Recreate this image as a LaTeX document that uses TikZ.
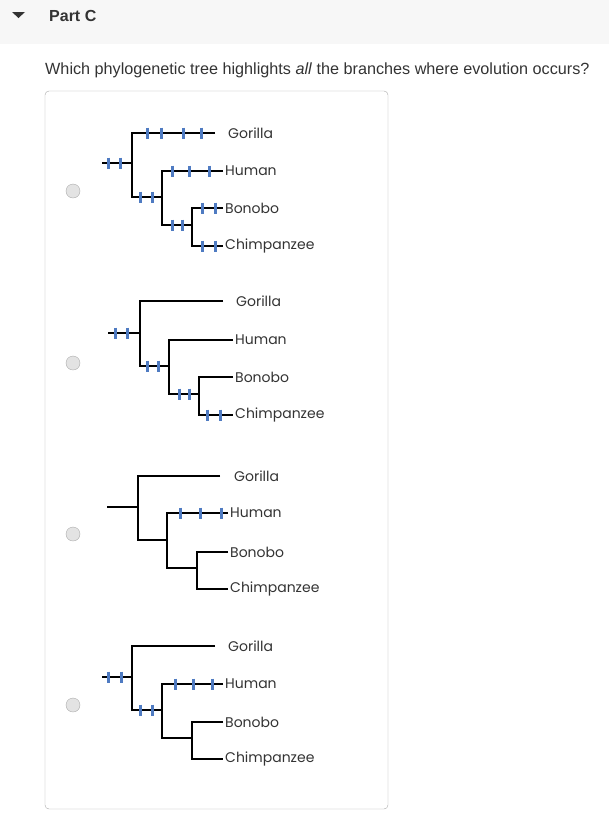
\documentclass[tikz,border=0pt]{standalone}
\usepackage{fontspec}
\setmainfont{Liberation Sans}
\newfontfamily\handfont{Poppins}
\usetikzlibrary{positioning}
\definecolor{bandgray}{HTML}{F7F7F7}
\definecolor{framegray}{HTML}{A8A8A8}
\definecolor{textdark}{HTML}{333333}
\definecolor{tickblue}{HTML}{4F7BC2}
\definecolor{radiofill}{HTML}{E3E3E3}
\definecolor{radioline}{HTML}{ABABAB}

\begin{document}
\begin{tikzpicture}[
    x=1pt, y=-1pt,
    branch/.style={line width=2.3pt, black},
    mutation/.style={line width=3pt, tickblue},
    taxon/.style={anchor=west, inner sep=1pt, text=textdark, font=\handfont\fontsize{14}{16}\selectfont},
    radio/.style={circle, draw=radioline, fill=radiofill, minimum size=14pt, inner sep=0pt}
  ]
    \useasboundingbox (0,0) rectangle (609,820);

    % header
    \fill[bandgray] (0,0) rectangle (609,44);
    \fill[textdark] (12,12) -- (25,12) -- (18.5,18) -- cycle;
    \node[anchor=base west, inner sep=0pt, text=textdark, font=\bfseries\fontsize{16}{18}\selectfont] (part) at (49,21) {Part C};
    \node[anchor=base west, inner sep=0pt, text=textdark, font=\fontsize{16.2}{18}\selectfont] (question) at (45,74)
      {Which phylogenetic tree highlights \textit{all} the branches where evolution occurs?};

    % answer frame
    \draw[framegray, rounded corners=4pt] (45,91) rectangle (388,809);

    \node[radio] (optA) at (73,191) {};
    \node[radio] (optB) at (73,363) {};
    \node[radio] (optC) at (73,534) {};
    \node[radio] (optD) at (73,705) {};

    % tree A
    \draw[branch] (102,163) -- (132,163);
    \draw[branch] (215,133) -| (132,197) -- (162,197);
    \draw[branch] (223,171) -| (162,225) -- (192,225);
    \draw[branch] (223,208) -| (192,246) -- (223,246);
    \foreach \x in {108,120} \draw[mutation] (\x,157.5) -- (\x,168.5);
    \foreach \x in {147,161,183,201} \draw[mutation] (\x,127.5) -- (\x,138.5);
    \foreach \x in {140,152} \draw[mutation] (\x,191.5) -- (\x,202.5);
    \foreach \x in {172,189,209} \draw[mutation] (\x,165.5) -- (\x,176.5);
    \foreach \x in {172,182} \draw[mutation] (\x,219.5) -- (\x,230.5);
    \foreach \x in {202,215} \draw[mutation] (\x,202.5) -- (\x,213.5);
    \foreach \x in {202,215} \draw[mutation] (\x,240.5) -- (\x,251.5);
    \node[taxon] (gorA) at (227,133) {Gorilla};
    \node[taxon] (humA) at (224,171) {Human};
    \node[taxon] (bonA) at (224,208) {Bonobo};
    \node[taxon] (chiA) at (224,246) {Chimpanzee};

    % tree B
    \draw[branch] (108,333) -- (140,333);
    \draw[branch] (223,301) -| (140,366) -- (169,366);
    \draw[branch] (233,340) -| (169,394) -- (199,394);
    \draw[branch] (233,377) -| (199,415) -- (233,415);
    \foreach \x in {115,127} \draw[mutation] (\x,327.5) -- (\x,338.5);
    \foreach \x in {147,158} \draw[mutation] (\x,360.5) -- (\x,371.5);
    \foreach \x in {179,189} \draw[mutation] (\x,388.5) -- (\x,399.5);
    \foreach \x in {207,220} \draw[mutation] (\x,409.5) -- (\x,420.5);
    \node[taxon] (gorB) at (235,301) {Gorilla};
    \node[taxon] (humB) at (234,340) {Human};
    \node[taxon] (bonB) at (234,377) {Bonobo};
    \node[taxon] (chiB) at (234,415) {Chimpanzee};

    % tree C
    \draw[branch] (107,507) -- (138,507);
    \draw[branch] (220,476) -| (138,540) -- (167,540);
    \draw[branch] (228,513) -| (167,568) -- (197,568);
    \draw[branch] (228,552) -| (197,589) -- (228,589);
    \foreach \x in {180,200,221} \draw[mutation] (\x,507.5) -- (\x,518.5);
    \node[taxon] (gorC) at (233,476) {Gorilla};
    \node[taxon] (humC) at (229,513) {Human};
    \node[taxon] (bonC) at (229,552) {Bonobo};
    \node[taxon] (chiC) at (229,589) {Chimpanzee};

    % tree D
    \draw[branch] (102,677) -- (132,677);
    \draw[branch] (215,646) -| (132,710) -- (162,710);
    \draw[branch] (223,684) -| (162,738) -- (192,738);
    \draw[branch] (223,722) -| (192,759) -- (223,759);
    \foreach \x in {108,121} \draw[mutation] (\x,671.5) -- (\x,682.5);
    \foreach \x in {140,152} \draw[mutation] (\x,704.5) -- (\x,715.5);
    \foreach \x in {175,193,212} \draw[mutation] (\x,678.5) -- (\x,689.5);
    \node[taxon] (gorD) at (227,646) {Gorilla};
    \node[taxon] (humD) at (224,684) {Human};
    \node[taxon] (bonD) at (224,722) {Bonobo};
    \node[taxon] (chiD) at (224,759) {Chimpanzee};
  \end{tikzpicture}
\end{document}
